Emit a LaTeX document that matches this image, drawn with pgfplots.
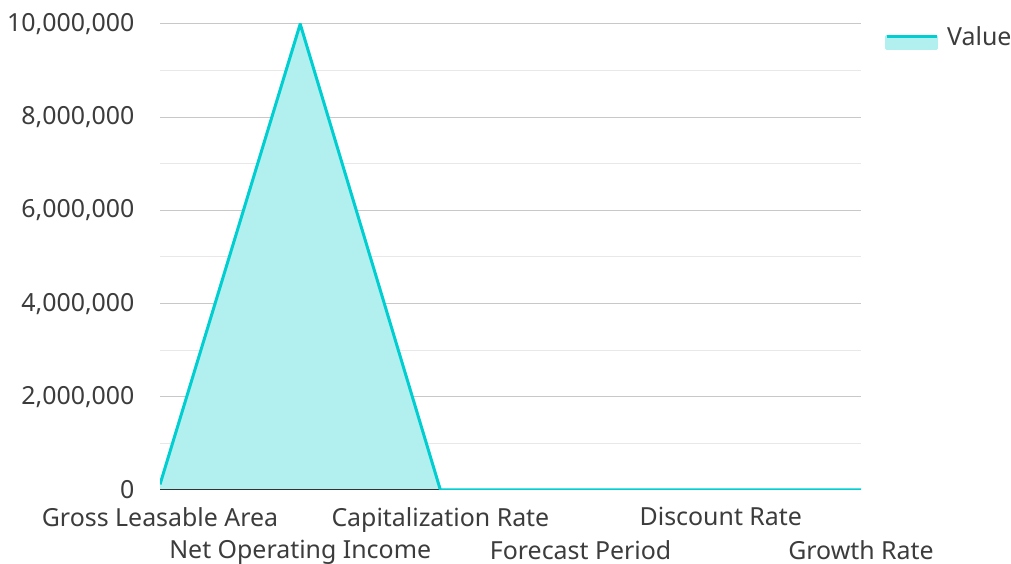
\documentclass[border=0pt]{standalone}
\usepackage{pgfplots}
\pgfplotsset{compat=1.18}
\usepackage{fontspec}
\setmainfont{Noto Sans}
\definecolor{linec}{HTML}{00CED1}
\definecolor{areac}{HTML}{B2EFEF}
\definecolor{majg}{HTML}{C8C8C8}
\definecolor{ming}{HTML}{E8E8E8}
\definecolor{txt}{HTML}{3C3C3C}
\begin{document}
\begin{tikzpicture}[x=1bp,y=1bp]
\useasboundingbox (0,0) rectangle (1011,564);
\begin{axis}[
  at={(160bp,74bp)}, anchor=south west,
  scale only axis, width=701bp, height=466bp,
  xmin=0, xmax=5, ymin=0, ymax=10000000,
  axis line style={draw=none},
  xtick={0,2,4},
  xticklabels={Gross Leasable Area, Capitalization Rate, Discount Rate},
  extra x ticks={1,3,5},
  extra x tick labels={Net Operating Income, Forecast Period, Growth Rate},
  extra x tick style={xticklabel style={yshift=-33bp}, grid=none},
  x tick label style={font=\fontsize{25}{29}\selectfont, text=txt, yshift=-14bp},
  xmajorgrids=false,
  major x tick style={draw=none},
  ytick={0,2000000,4000000,6000000,8000000,10000000},
  minor ytick={1000000,3000000,5000000,7000000,9000000},
  ymajorgrids, yminorgrids,
  major grid style={majg, line width=1bp},
  minor grid style={ming, line width=1bp},
  major y tick style={draw=none}, minor y tick style={draw=none},
  scaled y ticks=false,
  y tick label style={font=\fontsize{25}{29}\selectfont, text=txt, xshift=-22bp},
  yticklabel={\pgfmathprintnumber[fixed, precision=0, 1000 sep={,}]{\tick}},
  /pgf/number format/assume math mode=true,
  legend style={at={(1,1)}, anchor=north west, xshift=22bp, yshift=2bp, draw=none, fill=none,
    font=\fontsize{25}{29}\selectfont, text=txt, inner sep=2bp,
    /tikz/every odd column/.append style={column sep=7bp}},
  legend cell align=left,
]
\addplot[fill=areac, draw=none, forget plot] coordinates {
(0,120000) (1,10000000) (2,0.5) (3,0.1) (4,0.1) (5,0.03)} \closedcycle;
\draw[black!80, line width=2bp] (axis cs:0,0) -- (axis cs:5,0);
\addplot[linec, line width=3bp, line join=round,
  legend image code/.code={
    \fill[areac] (0bp,-12bp) rectangle (50bp,0bp);
    \draw[linec, line width=3bp] (0bp,0bp) -- (50bp,0bp);
  }] coordinates {
(0,120000) (1,10000000) (2,0.5) (3,0.1) (4,0.1) (5,0.03)};
\addlegendentry{Value}
\end{axis}
\end{tikzpicture}
\end{document}
